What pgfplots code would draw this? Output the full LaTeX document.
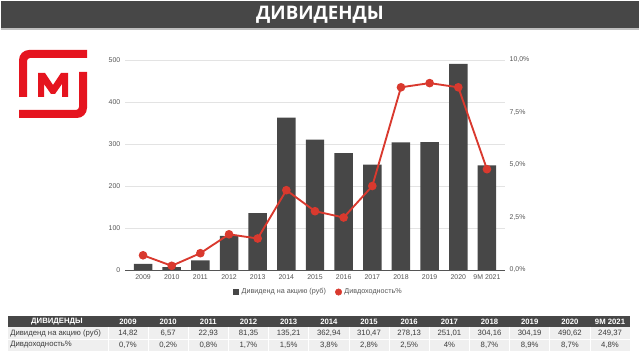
\documentclass[border=0pt]{standalone}
\usepackage{pgfplots}
\pgfplotsset{compat=1.18}
\usepackage{fontspec}
\setmainfont{Liberation Sans}
\newfontfamily\titlefont{Open Sans}
\definecolor{barc}{HTML}{474747}
\definecolor{lred}{HTML}{D9392E}
\definecolor{logored}{HTML}{E5141F}
\definecolor{gridc}{HTML}{E3E3E3}
\definecolor{tickc}{HTML}{555555}
\definecolor{rowg}{HTML}{EFEFEF}
\definecolor{txtc}{HTML}{3C3C3C}
\begin{document}
\begin{tikzpicture}
\path[use as bounding box] (0pt,0pt) rectangle (480pt,270pt);
\begin{scope}[shift={(0pt,270pt)}, x=0.75pt, y=-0.75pt]
% title bar
\fill[black!25] (1,2) rectangle (639,30);
\fill[barc] (1,1) rectangle (639,28);
\node[text=white, font=\titlefont\bfseries\fontsize{14}{16}\selectfont] at (320,15) {ДИВИДЕНДЫ};
% logo
\fill[logored] (87,50) -- (29,50) arc[start angle=270,end angle=180,radius=10] -- (19,97) -- (27,97) -- (27,61) arc[start angle=180,end angle=270,radius=3] -- (87,58) -- cycle;
\fill[logored] (19,118) -- (77,118) arc[start angle=90,end angle=0,radius=10] -- (87,72) -- (79,72) -- (79,107) arc[start angle=0,end angle=90,radius=3] -- (19,110) -- cycle;
\fill[logored] (38,97) -- (38,73) -- (45,73) -- (53,85) -- (61,73) -- (68,73) -- (68,97) -- (62,97) -- (62,84) -- (55,94) -- (51,94) -- (44,84) -- (44,97) -- cycle;
% table
\fill[barc] (8,316) rectangle (630,327);
\fill[rowg] (8,327) rectangle (630,351);
\draw[white, line width=0.6pt] (8,339) -- (630,339);
\foreach \k in {0,...,12} {\draw[white, line width=0.6pt] ({108+40.17*\k},327) -- ({108+40.17*\k},351);}
\node[text=white, font=\bfseries\fontsize{5.8}{7}\selectfont] at (57,321.5) {ДИВИДЕНДЫ};
\node[text=txtc, anchor=west, font=\fontsize{5.8}{7}\selectfont, inner sep=0pt] at (10,333) {Дивиденд на акцию (руб)};
\node[text=txtc, anchor=west, font=\fontsize{5.8}{7}\selectfont, inner sep=0pt] at (10,345) {Дивдоходность\%};
\foreach \yr/\dv/\dy [count=\i from 0] in {2009/14{,}82/0{,}7\%, 2010/6{,}57/0{,}2\%, 2011/22{,}93/0{,}8\%, 2012/81{,}35/1{,}7\%, 2013/135{,}21/1{,}5\%, 2014/362{,}94/3{,}8\%, 2015/310{,}47/2{,}8\%, 2016/278{,}13/2{,}5\%, 2017/251{,}01/4\%, 2018/304{,}16/8{,}7\%, 2019/304{,}19/8{,}9\%, 2020/490{,}62/8{,}7\%, 9M 2021/249{,}37/4{,}8\%} {
  \node[text=white, font=\bfseries\fontsize{5.8}{7}\selectfont] at ({128+40.17*\i},321.5) {\yr};
  \node[text=txtc, font=\fontsize{5.8}{7}\selectfont] at ({128+40.17*\i},333) {\dv};
  \node[text=txtc, font=\fontsize{5.8}{7}\selectfont] at ({128+40.17*\i},345) {\dy};
}
\end{scope}

\begin{axis}[
  at={(93.75pt,67.5pt)}, anchor=south west,
  scale only axis, width=285pt, height=157.5pt,
  xmin=-0.63, xmax=12.63, ymin=0, ymax=500,
  axis x line*=bottom, axis y line*=left,
  y axis line style={draw=none},
  x axis line style={draw=tickc, line width=0.6pt, -},
  ymajorgrids, grid style={draw=gridc, line width=0.7pt},
  xtick={0,...,12},
  xticklabels={2009,2010,2011,2012,2013,2014,2015,2016,2017,2018,2019,2020,9M 2021},
  ytick={0,100,200,300,400,500},
  major tick length=0,
  tick label style={font=\fontsize{5.2}{6}\selectfont, text=tickc},
  /pgf/number format/assume math mode=true,
  clip=false,
  legend columns=2,
  legend style={at={(0.51,-0.105)}, anchor=center, draw=none, fill=none,
    font=\fontsize{5.4}{6}\selectfont, text=tickc,
    /tikz/every even column/.append style={column sep=5pt}},
]
\addplot[ybar, bar width=0.645, fill=barc, draw=none,
  legend image code/.code={\fill[barc] (0pt,-2.2pt) rectangle (4.4pt,2.2pt);}]
  coordinates {(0,14.82) (1,6.57) (2,22.93) (3,81.35) (4,135.21) (5,362.94) (6,310.47) (7,278.13) (8,251.01) (9,304.16) (10,304.19) (11,490.62) (12,249.37)};
\addlegendentry{Дивиденд на акцию (руб)}
\addlegendimage{only marks, mark=*, mark size=2.4pt, mark options={draw=lred, fill=lred}}
\addlegendentry{Дивдоходность\%}
\end{axis}

\begin{axis}[
  at={(93.75pt,67.5pt)}, anchor=south west,
  scale only axis, width=285pt, height=157.5pt,
  xmin=-0.63, xmax=12.63, ymin=0, ymax=10,
  axis x line=none, axis y line*=right,
  y axis line style={draw=none},
  ytick={0,2.5,5,7.5,10},
  yticklabel={\pgfmathprintnumber[fixed,fixed zerofill,precision=1,use comma]{\tick}\%},
  major tick length=0,
  tick label style={font=\fontsize{5.2}{6}\selectfont, text=tickc},
  /pgf/number format/assume math mode=true,
  clip=false,
]
\addplot[lred, line width=1.4pt, mark=*, mark size=2.5pt, mark options={fill=lred, draw=lred}]
  coordinates {(0,0.7) (1,0.2) (2,0.8) (3,1.7) (4,1.5) (5,3.8) (6,2.8) (7,2.5) (8,4.0) (9,8.7) (10,8.9) (11,8.7) (12,4.8)};
\end{axis}
\end{tikzpicture}
\end{document}
